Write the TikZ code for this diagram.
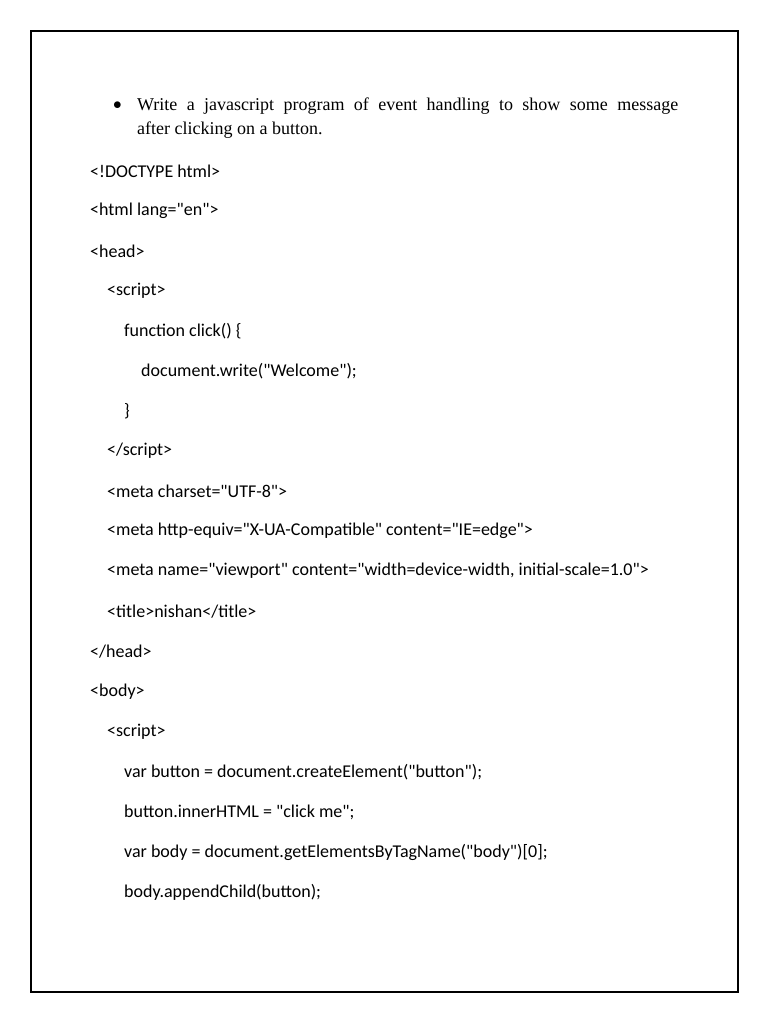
\documentclass[tikz,border=0pt]{standalone}
\usepackage{fontspec}
\newfontfamily\cod{Carlito}[Ligatures=ResetAll]
\newfontfamily\tnr{Liberation Serif}
\begin{document}
\begin{tikzpicture}[x=1pt,y=-1pt,
  code/.style={anchor=west,inner sep=0pt,font=\cod\fontsize{18}{18}\selectfont}]
\useasboundingbox (0,0) rectangle (768,1024);
\fill[white] (0,0) rectangle (768,1024);
\draw[line width=1.5pt] (31,31) rectangle (738,992);
\node[anchor=west,inner sep=0pt] (bul) at (113,106) {\fontsize{18}{18}\selectfont$\bullet$};
\node[anchor=west,inner sep=0pt,font=\tnr\fontsize{18}{18}\selectfont] (title1) at (137,106) {\hbox to 541pt{Write a javascript program of event handling to show some message}};
\node[anchor=west,inner sep=0pt,font=\tnr\fontsize{18}{18}\selectfont] (title2) at (137,130) {after clicking on a button.};
\node[code] (l1) at (90,171) {<!DOCTYPE html>};
\node[code] (l2) at (90,211) {<html lang="en">};
\node[code] (l3) at (90,251) {<head>};
\node[code] (l4) at (107,291) {<script>};
\node[code] (l5) at (124,331) {function click() \{};
\node[code] (l6) at (141,371) {document.write("Welcome");};
\node[code] (l7) at (124,411) {\}};
\node[code] (l8) at (107,451) {</script>};
\node[code] (l9) at (107,491) {<meta charset="UTF-8">};
\node[code] (l10) at (107,531) {<meta http-equiv="X-UA-Compatible" content="IE=edge">};
\node[code] (l11) at (107,571) {<meta name="viewport" content="width=device-width, initial-scale=1.0">};
\node[code] (l12) at (107,612) {<title>nishan</title>};
\node[code] (l13) at (90,652) {</head>};
\node[code] (l14) at (90,692) {<body>};
\node[code] (l15) at (107,732) {<script>};
\node[code] (l16) at (124,772) {var button = document.createElement("button");};
\node[code] (l17) at (124,812) {button.innerHTML = "click me";};
\node[code] (l18) at (124,852) {var body = document.getElementsByTagName("body")[0];};
\node[code] (l19) at (124,892) {body.appendChild(button);};
\end{tikzpicture}
\end{document}
